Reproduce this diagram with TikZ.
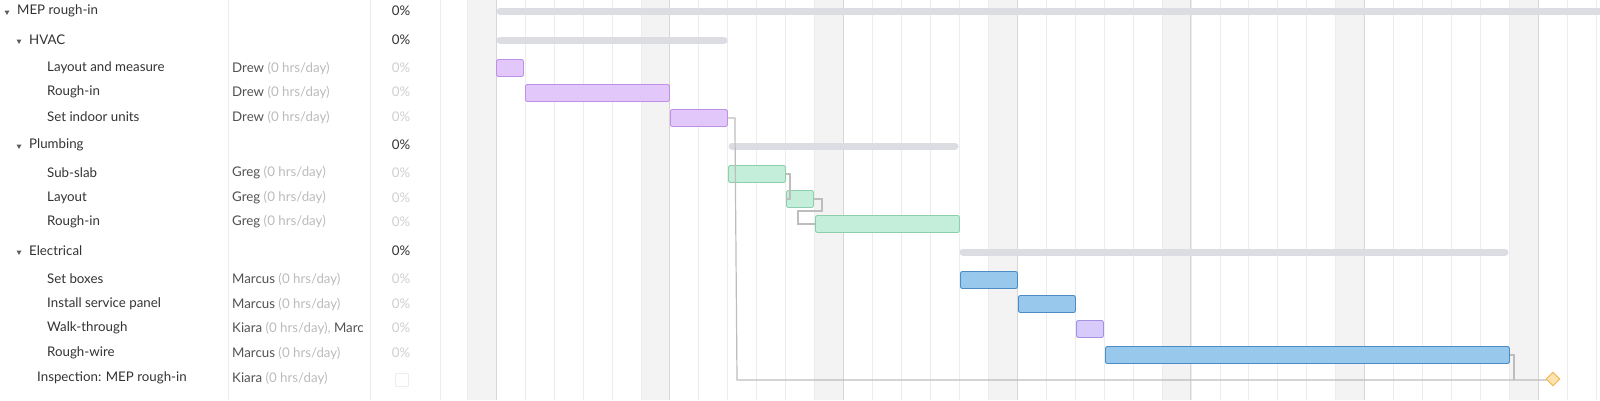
\documentclass[tikz,border=0pt]{standalone}
\usepackage{fontspec}
\setmainfont{Lato}
\usetikzlibrary{shapes.geometric}
\definecolor{hvacfill}{HTML}{E2C8FA}
\definecolor{hvacline}{HTML}{C08FE6}
\definecolor{plumbfill}{HTML}{C4EED9}
\definecolor{plumbline}{HTML}{8CCFAD}
\definecolor{elecfill}{HTML}{98C8EC}
\definecolor{elecline}{HTML}{4C8CC4}
\definecolor{walkfill}{HTML}{D6CBFA}
\definecolor{walkline}{HTML}{A590E4}
\definecolor{sumgray}{HTML}{DCDCE3}
\definecolor{wkend}{HTML}{F4F3F3}
\definecolor{gridc}{HTML}{ECECEC}
\definecolor{weekc}{HTML}{D6D6D6}
\definecolor{depc}{HTML}{BDBDBD}
\definecolor{txt}{HTML}{333333}
\definecolor{faint}{HTML}{BBBBBB}
\definecolor{msfill}{HTML}{FBE3B0}
\definecolor{msline}{HTML}{F2B450}
\begin{document}
\begin{tikzpicture}[x=1pt,y=-1pt,
    every node/.style={inner sep=0pt,font=\fontsize{13.3}{15}\selectfont,text=txt},
    taskbar/.style={draw,rounded corners=2pt,line width=0.9pt,minimum height=17pt,anchor=west},
    hvac/.style={taskbar,fill=hvacfill,draw=hvacline},
    plumb/.style={taskbar,fill=plumbfill,draw=plumbline},
    elec/.style={taskbar,fill=elecfill,draw=elecline},
    walk/.style={taskbar,fill=walkfill,draw=walkline},
    sumbar/.style={line width=7pt,draw=sumgray,line cap=round},
    dep/.style={draw=depc,line width=1.2pt},
    tri/.style={isosceles triangle,isosceles triangle apex angle=60,shape border rotate=-90,fill=txt!80,minimum width=5pt,minimum height=4pt,inner sep=0pt}]
\useasboundingbox (0,0) rectangle (1600,400);
% weekend days and grid
\foreach \k in {0,...,6}
  \fill[wkend] (467+173.7*\k,0) rectangle ++(28.95,400);
\foreach \k in {0,...,39}
  \draw[gridc] (467+28.95*\k,0) -- ++(0,400);
\foreach \k in {0,...,6}
  \draw[weekc,line width=1pt] (496+173.7*\k,0) -- ++(0,400);
\draw[gridc] (228,0) -- (228,400);
\draw[gridc] (370,0) -- (370,400);
\draw[gridc] (440,0) -- (440,400);
% summary bars
\draw[sumbar] (500,11) -- (1600,11);
\draw[sumbar] (500,40) -- (724,40);
\draw[sumbar] (732,146) -- (955,146);
\draw[sumbar] (963,252) -- (1505,252);
% task bars
\node[hvac,minimum width=27pt] (lm) at (496,68) {};
\node[hvac,minimum width=144pt] (hr) at (525,93) {};
\node[hvac,minimum width=57pt] (si) at (670,118) {};
\node[plumb,minimum width=57pt] (ss) at (728,174) {};
\node[plumb,minimum width=27pt] (pl) at (786,199) {};
\node[plumb,minimum width=144pt] (pr) at (815,224) {};
\node[elec,minimum width=57pt] (sb) at (960,280) {};
\node[elec,minimum width=57pt] (sp) at (1018,304) {};
\node[walk,minimum width=27pt] (wt) at (1076,329) {};
\node[elec,minimum width=404pt] (rw) at (1105,355) {};
% dependencies
\draw[dep] (si.east) -- ++(7,0) -- (737,380) -- (1548,380);
\draw[dep] (ss.east) -- ++(4,0) |- (pl.west);
\draw[dep] (pl.east) -- ++(8,0) -- ++(0,12) -- (798,211) |- (pr.west);
\draw[dep] (rw.east) -- ++(4,0) -- ++(0,25);
\node[diamond,draw=msline,fill=msfill,line width=0.9pt,minimum size=14pt] (ms) at (1553,379) {};
% task list
\node[tri] (t0) at (7,12) {};
\node[anchor=west] (n0) at (17,11) {MEP rough-in};
\node[tri] (t1) at (19,41) {};
\node[anchor=west] (n1) at (29,40) {HVAC};
\node[anchor=west] (n2) at (47,68) {Layout and measure};
\node[anchor=west] (n3) at (47,92) {Rough-in};
\node[anchor=west] (n4) at (47,117) {Set indoor units};
\node[tri] (t2) at (19,146) {};
\node[anchor=west] (n5) at (29,145) {Plumbing};
\node[anchor=west] (n6) at (47,173) {Sub-slab};
\node[anchor=west] (n7) at (47,198) {Layout};
\node[anchor=west] (n8) at (47,222) {Rough-in};
\node[tri] (t3) at (19,252) {};
\node[anchor=west] (n9) at (29,251) {Electrical};
\node[anchor=west] (n10) at (47,279) {Set boxes};
\node[anchor=west] (n11) at (47,304) {Install service panel};
\node[anchor=west] (n12) at (47,328) {Walk-through};
\node[anchor=west] (n13) at (47,353) {Rough-wire};
\node[anchor=west] (n14) at (37,378) {Inspection: MEP rough-in};
% resources
\foreach \y/\who in {68/Drew,92/Drew,117/Drew,173/Greg,198/Greg,222/Greg,279/Marcus,304/Marcus,353/Marcus,378/Kiara}
  \node[anchor=west] at (232,\y) {{\color{txt!85}\who} {\color{faint}(0 hrs/day)}};
\begin{scope}
  \clip (228,318) rectangle (362,340);
  \node[anchor=west] (rwt) at (232,328) {{\color{txt!85}Kiara} {\color{faint}(0 hrs/day),} {\color{txt!85}Marcus}};
\end{scope}
% percentages
\foreach \y in {11,40,145,251}
  \node (p\y) at (401,\y) {0\%};
\foreach \y in {68,92,117,173,198,222,279,304,328,353}
  \node[text=faint!70] (p\y) at (401,\y) {0\%};
\node[draw=gridc,line width=0.8pt,minimum size=13pt,rounded corners=1pt] (chk) at (402,380) {};
\end{tikzpicture}
\end{document}
